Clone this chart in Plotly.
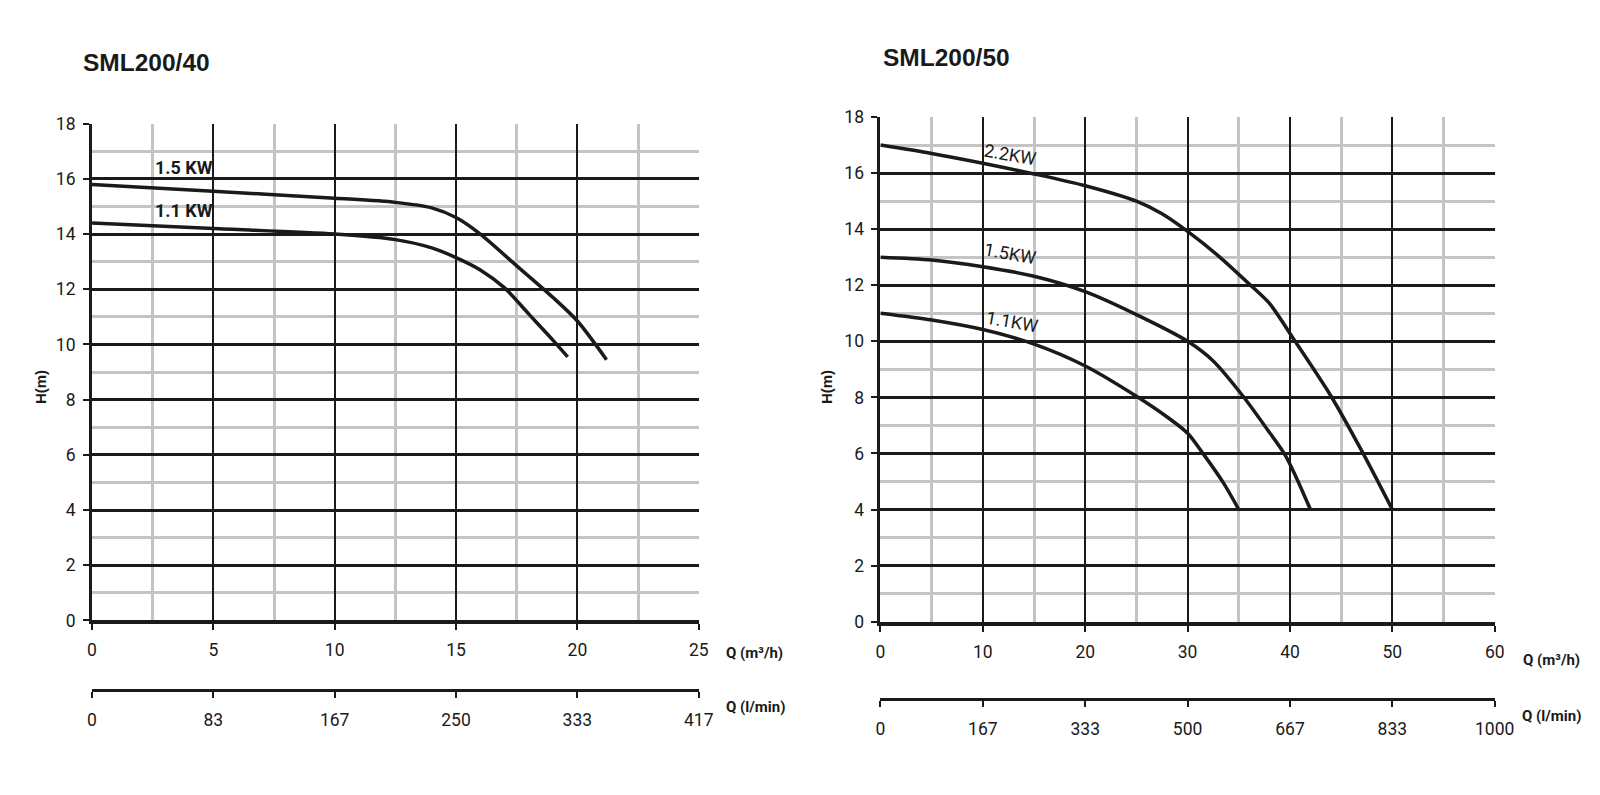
import plotly.graph_objects as go

# ---------------- data ----------------
# SML200/40
l_q_15 = [0, 5, 10, 12.5, 14.0, 15.0, 16.0, 17.5, 19.0, 20.0, 21.2]
l_h_15 = [15.8, 15.55, 15.3, 15.15, 14.95, 14.6, 14.0, 12.85, 11.7, 10.85, 9.45]
l_q_11 = [0, 5, 10, 12.5, 14.0, 15.0, 16.0, 17.0, 18.0, 19.0, 19.6]
l_h_11 = [14.4, 14.2, 14.0, 13.8, 13.5, 13.15, 12.7, 12.05, 11.1, 10.15, 9.55]

# SML200/50
r_q_22 = [0, 5, 10, 15, 20, 25, 27.5, 30, 33, 36, 38, 40.5, 44, 47, 50]
r_h_22 = [17.0, 16.7, 16.35, 15.97, 15.55, 15.0, 14.55, 13.92, 13.05, 12.05, 11.35, 10.0, 8.05, 6.1, 4.0]
r_q_15 = [0, 5, 10, 15, 20, 25, 30, 32.5, 35.4, 37.7, 39.6, 42]
r_h_15 = [13.0, 12.9, 12.66, 12.32, 11.77, 10.95, 10.0, 9.3, 8.05, 6.9, 5.9, 4.0]
r_q_11 = [0, 5, 10, 15, 20, 25, 28, 30, 31.6, 33.5, 35]
r_h_11 = [11.0, 10.76, 10.42, 9.9, 9.12, 8.04, 7.3, 6.72, 5.95, 4.95, 4.0]

# axes / ticks
l_q_major = [0, 5, 10, 15, 20, 25]
l_q_minor = [2.5, 7.5, 12.5, 17.5, 22.5]
l_lmin_vals = [0, 83.333, 166.667, 250, 333.333, 416.667]
l_lmin_text = ["0", "83", "167", "250", "333", "417"]
r_q_major = [0, 10, 20, 30, 40, 50, 60]
r_q_minor = [5, 15, 25, 35, 45, 55]
r_lmin_vals = [0, 166.667, 333.333, 500, 666.667, 833.333, 1000]
r_lmin_text = ["0", "167", "333", "500", "667", "833", "1000"]
h_major = [0, 2, 4, 6, 8, 10, 12, 14, 16, 18]
h_minor = [1, 3, 5, 7, 9, 11, 13, 15, 17]

NARROW = "Roboto, Lato, sans-serif"
ARIAL = "Liberation Sans, Arial, sans-serif"
INK = "#1a1a1a"
GRAY = "#c4c4c4"

fig = go.Figure()
line = dict(color=INK, width=3.5, shape="spline", smoothing=0.8)
for q, h in [(l_q_15, l_h_15), (l_q_11, l_h_11)]:
    fig.add_trace(go.Scatter(x=q, y=h, mode="lines", line=line, xaxis="x", yaxis="y",
                             showlegend=False, hoverinfo="skip"))
for q, h in [(r_q_22, r_h_22), (r_q_15, r_h_15), (r_q_11, r_h_11)]:
    fig.add_trace(go.Scatter(x=q, y=h, mode="lines", line=line, xaxis="x2", yaxis="y2",
                             showlegend=False, hoverinfo="skip"))
# carriers for the l/min axes
fig.add_trace(go.Scatter(x=[None], y=[None], xaxis="x3", yaxis="y", showlegend=False, hoverinfo="skip"))
fig.add_trace(go.Scatter(x=[None], y=[None], xaxis="x4", yaxis="y2", showlegend=False, hoverinfo="skip"))

W, H = 1600, 795
# page -> paper mapping (compensates the slight rescale seen in the rendered page)
def px(v): return (v - 3.4) / 1577.0
def py(v): return 1 - (v - 10.2) / 775.5

tickfont = dict(family=NARROW, size=17.5, color=INK)

def xax(dom, rng, major, minor, anchor):
    return dict(domain=dom, range=rng, anchor=anchor, tickmode="array", tickvals=major,
                showgrid=True, gridcolor=INK, gridwidth=1.5, zeroline=False,
                minor=dict(tickvals=minor, showgrid=True, gridcolor=GRAY, gridwidth=3, ticks=""),
                showline=True, linecolor=INK, linewidth=4, ticks="outside", ticklen=6,
                tickwidth=2, tickcolor=INK, tickfont=tickfont, ticklabelstandoff=5, fixedrange=True)

def yax(dom, anchor):
    return dict(domain=dom, range=[0, 18], anchor=anchor, tickmode="array", tickvals=h_major,
                showgrid=True, gridcolor=INK, gridwidth=3, zeroline=False,
                minor=dict(tickvals=h_minor, showgrid=True, gridcolor=GRAY, gridwidth=3, ticks=""),
                showline=True, linecolor=INK, linewidth=3, ticks="outside", ticklen=6,
                tickwidth=2, tickcolor=INK, tickfont=tickfont, ticklabelstandoff=4, fixedrange=True)

def lax(dom, rng, vals, text, over, pos):
    return dict(domain=dom, range=rng, overlaying=over, anchor="free", position=pos,
                tickmode="array", tickvals=vals, ticktext=text, showgrid=False, zeroline=False,
                showline=True, linecolor=INK, linewidth=3, ticks="outside", ticklen=6,
                tickwidth=2, tickcolor=INK, tickfont=tickfont, ticklabelstandoff=7, fixedrange=True)

ldom = [px(90.5), px(698)]
rdom = [px(880), px(1495)]
fig.update_layout(
    width=W, height=H, margin=dict(l=0, r=0, t=0, b=0),
    paper_bgcolor="white", plot_bgcolor="white",
    xaxis=xax(ldom, [0, 25], l_q_major, l_q_minor, "y"),
    yaxis=yax([py(621), py(124)], "x"),
    xaxis2=xax(rdom, [0, 60], r_q_major, r_q_minor, "y2"),
    yaxis2=yax([py(622.3), py(117.3)], "x2"),
    xaxis3=lax(ldom, [0, 416.667], l_lmin_vals, l_lmin_text, "x", py(691)),
    xaxis4=lax(rdom, [0, 1000], r_lmin_vals, r_lmin_text, "x2", py(700)),
)

ann = []
def note(text, x, y, size, family, xref="paper", yref="paper", xanchor="left", angle=0, bold=False):
    ann.append(dict(text=f"<b>{text}</b>" if bold else text, x=x, y=y, xref=xref, yref=yref,
                    xanchor=xanchor, yanchor="middle", showarrow=False, textangle=angle,
                    font=dict(family=family, size=size, color=INK)))

note("SML200/40", px(79), py(63), 24.5, ARIAL, bold=True)
note("SML200/50", px(881), py(58), 24.5, ARIAL, bold=True)
note("H(m)", px(39), py(388), 15, ARIAL, xanchor="center", angle=-90, bold=True)
note("H(m)", px(826), py(388), 15, ARIAL, xanchor="center", angle=-90, bold=True)
note("Q (m³/h)", px(723), py(654), 15, NARROW, bold=True)
note("Q (l/min)", px(723), py(708), 15, NARROW, bold=True)
note("Q (m³/h)", px(1521), py(661), 15, NARROW, bold=True)
note("Q (l/min)", px(1520), py(717), 15, NARROW, bold=True)
# curve labels
note("1.5 KW", 3.8, 16.42, 18, NARROW, "x", "y", "center", bold=True)
note("1.1 KW", 3.8, 14.86, 18, NARROW, "x", "y", "center", bold=True)
note("2.2KW", 12.7, 16.66, 18, NARROW, "x2", "y2", "center", angle=10)
note("1.5KW", 12.7, 13.13, 18, NARROW, "x2", "y2", "center", angle=10)
note("1.1KW", 12.8, 10.69, 18, NARROW, "x2", "y2", "center", angle=10)
fig.update_layout(annotations=ann)

fig.write_html("out.html")
